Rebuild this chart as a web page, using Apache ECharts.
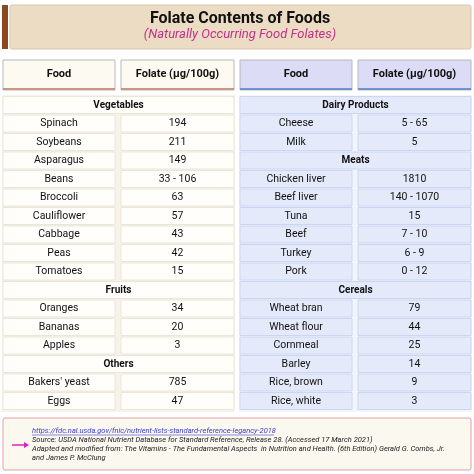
<!DOCTYPE html><html><head><meta charset="utf-8">
<script src="https://cdn.jsdelivr.net/npm/echarts@6/dist/echarts.min.js"></script>
<style>html,body{margin:0;padding:0;background:#fff}#c{width:474px;height:474px}</style></head><body><div id="c"></div>
<script>
const title = 'Folate Contents of Foods';
const subtitle = '(Naturally Occurring Food Folates)';
const headers = ['Food', 'Folate (µg/100g)'];
// rows: [name, value]; value null => group heading
const leftRows = [
 ['Vegetables', null], ['Spinach','194'], ['Soybeans','211'], ['Asparagus','149'], ['Beans','33 - 106'],
 ['Broccoli','63'], ['Cauliflower','57'], ['Cabbage','43'], ['Peas','42'], ['Tomatoes','15'],
 ['Fruits', null], ['Oranges','34'], ['Bananas','20'], ['Apples','3'],
 ['Others', null], ["Bakers' yeast",'785'], ['Eggs','47']
];
const rightRows = [
 ['Dairy Products', null], ['Cheese','5 - 65'], ['Milk','5'],
 ['Meats', null], ['Chicken liver','1810'], ['Beef liver','140 - 1070'], ['Tuna','15'], ['Beef','7 - 10'],
 ['Turkey','6 - 9'], ['Pork','0 - 12'],
 ['Cereals', null], ['Wheat bran','79'], ['Wheat flour','44'], ['Cornmeal','25'], ['Barley','14'],
 ['Rice, brown','9'], ['Rice, white','3']
];
const footLink = 'https://fdc.nal.usda.gov/fnic/nutrient-lists-standard-reference-legancy-2018';
const footLines = [
 'Source: USDA National Nutrient Database for Standard Reference, Release 28. (Accessed 17 March 2021)',
 'Adapted and modified from: The Vitamins - The Fundamental Aspects  in Nutrition and Health. (6th Edition) Gerald G. Combs, Jr.',
 'and James P. McClung'
];

const F = 'Roboto, "Noto Sans", sans-serif';
const g = [];
// title box
g.push({type:'rect',shape:{x:2,y:5,width:6,height:44},style:{fill:'#8b4a1e'}});
g.push({type:'rect',shape:{x:10,y:5,width:461,height:44,r:2},style:{fill:'#ecdcc4',stroke:'#d6c6ae',lineWidth:1}});
g.push({type:'text',style:{x:240,y:19,text:title,font:'bold 16px '+F,fill:'#111',align:'center',verticalAlign:'middle'}});
g.push({type:'text',style:{x:240,y:35,text:subtitle,font:'italic 13px '+F,fill:'#c2308a',align:'center',verticalAlign:'middle'}});

function table(x0, rows, th, cellFill, cellStroke, hdrFill, hdrLine, groupFill){
  const w1=112, gap=6, w2=113;
  const cols=[[x0,w1],[x0+w1+gap,w2]];
  cols.forEach((c,i)=>{
    g.push({type:'rect',shape:{x:c[0],y:60,width:c[1],height:30},style:{fill:hdrFill,stroke:'#b8b8b8',lineWidth:1}});
    g.push({type:'rect',shape:{x:c[0],y:88,width:c[1],height:2},style:{fill:hdrLine}});
    g.push({type:'text',style:{x:c[0]+c[1]/2,y:74,text:headers[i],font:'bold 11px '+F,fill:'#111',align:'center',verticalAlign:'middle'}});
  });
  g.push({type:'rect',shape:{x:x0-1,y:95,width:w1+gap+w2+2,height:317},style:{fill:groupFill}});
  rows.forEach((r,k)=>{
    const cy=105+k*18.5, y=cy-8.5, h=17;
    if(r[1]===null){
      g.push({type:'rect',shape:{x:x0,y:y,width:w1+gap+w2,height:h},style:{fill:cellFill,stroke:cellStroke,lineWidth:1}});
      g.push({type:'text',style:{x:x0+(w1+gap+w2)/2,y:cy,text:r[0],font:'bold 10px '+F,fill:'#111',align:'center',verticalAlign:'middle'}});
    } else {
      cols.forEach((c,i)=>{
        g.push({type:'rect',shape:{x:c[0],y:y,width:c[1],height:h},style:{fill:cellFill,stroke:cellStroke,lineWidth:1}});
        g.push({type:'text',style:{x:c[0]+c[1]/2,y:cy,text:r[i],font:'10.5px '+F,fill:'#111',align:'center',verticalAlign:'middle'}});
      });
    }
  });
}
table(3, leftRows, headers, '#fffefb', '#ece6da', '#fdfbf1', '#c9977c', '#f7f3ea');
table(240, rightRows, headers, '#e4eafa', '#ccd6f0', '#dcdcf6', '#6f93d2', '#f3f5fc');

// footer
g.push({type:'rect',shape:{x:3,y:418,width:468,height:52,r:2},style:{fill:'#fbf8f0',stroke:'#e0a0a8',lineWidth:1}});
g.push({type:'line',shape:{x1:12,y1:445,x2:26,y2:445},style:{stroke:'#e020c0',lineWidth:1.5}});
g.push({type:'polygon',shape:{points:[[24,442],[29,445],[24,448]]},style:{fill:'#e020c0'}});
g.push({type:'text',style:{x:32,y:431,text:footLink,font:'italic 7.5px '+F,fill:'#3a3ad0',verticalAlign:'middle'}});
g.push({type:'line',shape:{x1:32,y1:435,x2:274,y2:435},style:{stroke:'#3a3ad0',lineWidth:0.6}});
footLines.forEach((t,i)=>g.push({type:'text',style:{x:32,y:440+i*9,text:t,font:'italic 7.5px '+F,fill:'#222',verticalAlign:'middle'}}));

const chart = echarts.init(document.getElementById('c'));
chart.setOption({backgroundColor:'#fff', graphic:{elements:g}});
</script></body></html>
